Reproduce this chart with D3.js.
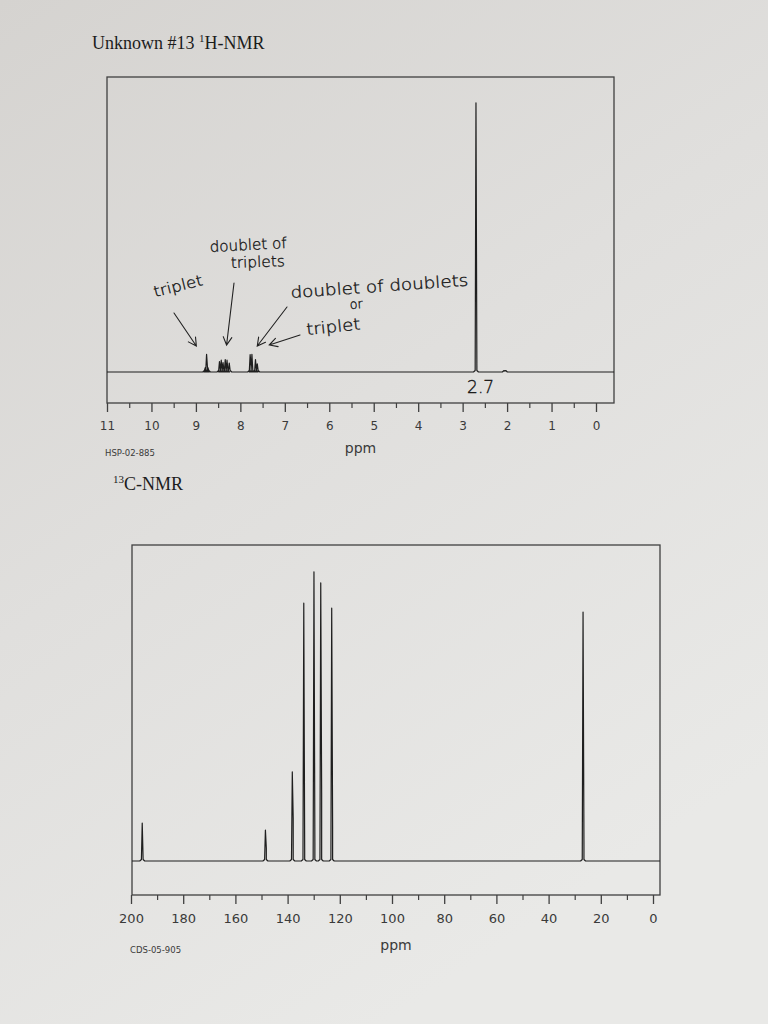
<!DOCTYPE html>
<html lang="en">
<head>
<meta charset="UTF-8">
<title>Unknown #13 NMR</title>
<style>
    body {
        margin: 0;
        background: #dedddb;
    }
    svg {
        display: block;
    }
</style>
</head>
<body>
<script src="https://d3js.org/d3.v7.min.js"></script>
<script>

    var width = 768,
        height = 1024;

    // 1H-NMR lines: shift (ppm), peak height, height of the neighbouring point
    var hPpm      = [8.79, 8.76, 8.73, 8.47, 8.43, 8.39, 8.34, 8.30, 8.25, 7.78, 7.74, 7.66, 7.62, 2.70, 2.05];
    var hHeight   = [1.5, 6.0, 1.5, 3.5, 4.0, 3.2, 4.2, 4.0, 3.0, 5.9, 6.0, 4.2, 2.8, 91.2, 0.3];
    var hShoulder = [0, 1.5, 0, 0, 0, 0, 0, 0, 0, 2.0, 0, 0, 0, 2.0, 0];
    var hTicks    = [11, 10, 9, 8, 7, 6, 5, 4, 3, 2, 1, 0];
    var hMinor    = [10.5, 9.5, 8.5, 7.5, 6.5, 5.5, 4.5, 3.5, 2.5, 1.5, 0.5];

    // 13C-NMR lines
    var cPpm      = [195.7, 148.5, 138.2, 133.8, 129.9, 127.3, 123.1, 26.8];
    var cHeight   = [12.0, 9.8, 28.2, 81.6, 91.5, 88.0, 80.0, 78.8];
    var cShoulder = [0, 4.1, 13.6, 3.5, 5.7, 21.5, 11.0, 5.0];
    var cTicks    = [200, 180, 160, 140, 120, 100, 80, 60, 40, 20, 0];
    var cMinor    = [190, 170, 150, 130, 110, 90, 70, 50, 30, 10];

    var svg = d3.select('body').append('svg')
        .attr('width', width)
        .attr('height', height);

    var defs = svg.append('defs');
    var grad = defs.append('linearGradient')
        .attr('id', 'paper')
        .attr('x1', 0).attr('y1', 0)
        .attr('x2', 0.5).attr('y2', 1);
    grad.append('stop').attr('offset', 0).attr('stop-color', '#d5d3d0');
    grad.append('stop').attr('offset', 0.5).attr('stop-color', '#e0dfdd');
    grad.append('stop').attr('offset', 1).attr('stop-color', '#e9e9e7');

    svg.append('rect')
        .attr('width', width)
        .attr('height', height)
        .attr('fill', 'url(#paper)');

    function spectrum(o) {
        var g = svg.append('g');
        var x = d3.scaleLinear().domain(o.domain).range(o.range);
        var y = d3.scaleLinear().domain([0, 100]).range([o.base, o.top]);

        // frame
        g.append('rect')
            .attr('x', o.left)
            .attr('y', o.top)
            .attr('width', o.right - o.left)
            .attr('height', o.axisY - o.top)
            .attr('fill', 'none')
            .attr('stroke', '#404040')
            .attr('stroke-width', 1.3);

        // trace
        var pts = d3.zip(o.ppm, o.height, o.shoulder)
            .sort((a, b) => x(a[0]) - x(b[0]));
        var p = d3.path();
        p.moveTo(o.left, o.base);
        pts.forEach(function (d) {
            var px = x(d[0]);
            p.lineTo(px - 2.5, o.base);
            p.lineTo(px - 0.8, o.base - 1.5);
            p.lineTo(px, y(d[1]));
            if (d[2]) {
                p.lineTo(px + 0.9, y(d[2]));
            }
            p.lineTo(px + 0.9, o.base - 1.5);
            p.lineTo(px + 2.5, o.base);
        });
        p.lineTo(o.right, o.base);

        g.append('path')
            .attr('d', p.toString())
            .attr('fill', 'none')
            .attr('stroke', '#1f1f1f')
            .attr('stroke-width', 1.2)
            .attr('stroke-linejoin', 'round');

        // axis
        var ax = g.append('g')
            .attr('transform', 'translate(0,' + o.axisY + ')')
            .call(d3.axisBottom(x)
                .tickValues(o.ticks)
                .tickSize(9)
                .tickPadding(o.pad)
                .tickFormat(d3.format('d')));
        ax.select('.domain').remove();
        ax.selectAll('line').attr('stroke', '#404040').attr('stroke-width', 1.3);
        ax.selectAll('text')
            .attr('font-family', 'DejaVu Sans')
            .attr('font-size', o.fs)
            .attr('fill', '#3a3a3a');

        var mi = g.append('g')
            .attr('transform', 'translate(0,' + o.axisY + ')')
            .call(d3.axisBottom(x).tickValues(o.minor).tickSize(5).tickFormat(''));
        mi.select('.domain').remove();
        mi.selectAll('line').attr('stroke', '#404040').attr('stroke-width', 1.2);

        g.append('text')
            .attr('x', (o.left + o.right) / 2)
            .attr('y', o.ppmY)
            .attr('text-anchor', 'middle')
            .attr('font-family', 'DejaVu Sans')
            .attr('font-size', 14)
            .attr('fill', '#3a3a3a')
            .text('ppm');

        g.append('text')
            .attr('x', o.codeX)
            .attr('y', o.ppmY + 3)
            .attr('font-family', 'DejaVu Sans')
            .attr('font-size', 8.5)
            .attr('fill', '#3a3a3a')
            .text(o.code);

        return x;
    }

    var hx = spectrum({
        domain: [11, 0], range: [107, 596],
        left: 107, right: 614, top: 77, base: 372, axisY: 403,
        ppm: hPpm, height: hHeight, shoulder: hShoulder,
        ticks: hTicks, minor: hMinor, pad: 9, fs: 12,
        ppmY: 453, code: 'HSP-02-885', codeX: 105
    });

    spectrum({
        domain: [200, 0], range: [131, 653],
        left: 132, right: 660, top: 545, base: 861, axisY: 895,
        ppm: cPpm, height: cHeight, shoulder: cShoulder,
        ticks: cTicks, minor: cMinor, pad: 10, fs: 13,
        ppmY: 950, code: 'CDS-05-905', codeX: 130
    });

    // printed titles
    var t1 = svg.append('text')
        .attr('x', 92).attr('y', 49)
        .attr('font-family', 'Liberation Serif')
        .attr('font-size', 18)
        .attr('fill', '#1c1c1c');
    t1.append('tspan').text('Unknown #13 ');
    t1.append('tspan').attr('font-size', 11).attr('dy', -7).text('1');
    t1.append('tspan').attr('dy', 7).text('H-NMR');

    var t2 = svg.append('text')
        .attr('x', 113).attr('y', 490)
        .attr('font-family', 'Liberation Serif')
        .attr('font-size', 18)
        .attr('fill', '#1c1c1c');
    t2.append('tspan').attr('font-size', 11).attr('dy', -7).text('13');
    t2.append('tspan').attr('dy', 7).text('C-NMR');

    // handwritten notes
    var hand = svg.append('g')
        .attr('font-family', 'DejaVu Sans')
        .attr('font-weight', 200)
        .attr('fill', '#151515')
        .attr('stroke', '#151515')
        .attr('stroke-width', 0.35);

    function note(txt, x, y, w, size, rot) {
        hand.append('text')
            .attr('transform', 'translate(' + x + ',' + y + ') rotate(' + rot + ')')
            .attr('font-size', size)
            .attr('textLength', w)
            .attr('lengthAdjust', 'spacingAndGlyphs')
            .text(txt);
    }

    note('doublet of', 210, 252, 77, 15, -3);
    note('triplets', 231, 268, 54, 15, -2);
    note('triplet', 155, 297, 50, 15, -14);
    note('doublet of doublets', 291, 298, 178, 16, -4);
    note('or', 350, 309, 13, 13, -4);
    note('triplet', 307, 335, 54, 16, -6);

    function arrow(x1, y1, x2, y2) {
        var a = Math.atan2(y2 - y1, x2 - x1), len = 9, s = 0.5;
        var p = d3.path();
        p.moveTo(x1, y1);
        p.lineTo(x2, y2);
        p.moveTo(x2 - len * Math.cos(a - s), y2 - len * Math.sin(a - s));
        p.lineTo(x2, y2);
        p.lineTo(x2 - len * Math.cos(a + s), y2 - len * Math.sin(a + s));
        hand.append('path')
            .attr('d', p.toString())
            .attr('fill', 'none')
            .attr('stroke', '#222')
            .attr('stroke-width', 1.1)
            .attr('stroke-linecap', 'round');
    }

    // arrow tips point at the multiplets
    arrow(174, 313, hx(8.99), 346);
    arrow(234, 283, hx(8.31), 345);
    arrow(287, 307, hx(7.62), 346);
    arrow(300, 335, hx(7.35), 345);

    hand.append('text')
        .attr('x', hx(2.9))
        .attr('y', 393)
        .attr('font-size', 17)
        .text('2.7');

</script>
</body>
</html>
